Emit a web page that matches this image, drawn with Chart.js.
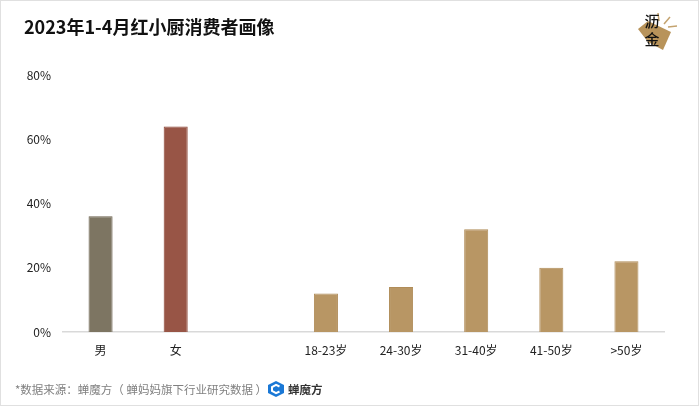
<!DOCTYPE html>
<html>
<head>
<meta charset="utf-8">
<script src="https://cdn.jsdelivr.net/npm/chart.js@4"></script>
<style>
  html, body { margin: 0; padding: 0; background: #fff; }
  #wrap { position: relative; width: 700px; height: 406px; overflow: hidden; font-family: "Noto Sans CJK SC", sans-serif; }
  #frame { position: absolute; left: 0; top: 0; width: 697px; height: 404px; border: 1px solid #e0e0e0; }
  #wheel { position: absolute; left: 0; top: 0; }
  #title { position: absolute; left: 24px; top: 12px; font-size: 18px; font-weight: 700; color: #111; line-height: 28px; white-space: nowrap; }
  #source { position: absolute; left: 15px; top: 379px; font-size: 11.5px; color: #808080; line-height: 20px; white-space: nowrap; }
  #brand { position: absolute; left: 288px; top: 379px; font-size: 11.5px; font-weight: 700; color: #333; line-height: 20px; }
  #logo-cube { position: absolute; left: 266px; top: 380px; }
  #badge { position: absolute; left: 636px; top: 10px; }
  #badge-text { position: absolute; left: 644px; top: 12px; width: 16px; font-size: 15px; font-weight: 500; line-height: 18px; color: #111; text-align: center; }
</style>
</head>
<body>
<div id="wrap">
  <div id="frame"></div>
  <canvas id="wheel" width="700" height="406"></canvas>
  <div id="title">2023年1-4月红小厨消费者画像</div>
  <div id="source">*数据来源：蝉魔方（ 蝉妈妈旗下行业研究数据 ）</div>
  <svg id="logo-cube" width="20" height="18" viewBox="0 0 20 18">
    <polygon points="10,1 18,5 18,13 10,17 2,13 2,5" fill="#1a78d6"/>
    <path d="M13.5 6.5 L10 4.8 L6 7 L6 11 L10 13.2 L13.5 11.5" fill="none" stroke="#fff" stroke-width="2"/>
  </svg>
  <div id="brand">蝉魔方</div>
  <svg id="badge" width="60" height="46" viewBox="0 0 60 46">
    <polygon points="2,19 12,11 35,22 27,40 12,32" fill="#b8935a"/>
    <line x1="41" y1="16" x2="32" y2="17" stroke="#c4a36f" stroke-width="1.5"/>
    <line x1="34" y1="7" x2="28" y2="14" stroke="#c4a36f" stroke-width="1.5"/>
    <line x1="22" y1="3" x2="23" y2="11" stroke="#c4a36f" stroke-width="1.5"/>
  </svg>
  <div id="badge-text">沥金</div>
</div>
<script>
const categories = ["男", "女", "", "18-23岁", "24-30岁", "31-40岁", "41-50岁", ">50岁"];
const shares = [36, 64, null, 12, 14, 32, 20, 22];
const barColors = ["#7d7562", "#985546", "#b89664", "#b89664", "#b89664", "#b89664", "#b89664", "#b89664"];
const barEdges = ["#6b614d", "#8a4232", "#b08c58", "#b08c58", "#b08c58", "#b08c58", "#b08c58", "#b08c58"];
const yMax = 80;
const yStep = 20;

const labelFont = { family: '"Noto Sans CJK SC", sans-serif', size: 12 };

new Chart(document.getElementById("wheel"), {
  type: "bar",
  data: {
    labels: categories,
    datasets: [{
      data: shares,
      backgroundColor: barColors,
      borderColor: barEdges,
      borderWidth: 1,
      barPercentage: 0.32,
      categoryPercentage: 1,
    }],
  },
  options: {
    responsive: false,
    animation: false,
    layout: { padding: { top: 75, right: 36, left: 0, bottom: 0 } },
    plugins: {
      legend: { display: false },
      tooltip: { enabled: false },
    },
    scales: {
      x: {
        grid: { display: false, drawTicks: false },
        border: { color: "#d9d9d9", width: 1.5 },
        ticks: { color: "#222", font: labelFont, padding: 11, maxRotation: 0, autoSkip: false },
        afterFit: (scale) => { scale.height = 74; },
      },
      y: {
        min: 0,
        max: yMax,
        grid: { display: false, drawTicks: false },
        border: { display: false },
        ticks: {
          stepSize: yStep,
          color: "#222",
          font: labelFont,
          padding: 12,
          callback: (value) => value + "%",
        },
        afterFit: (scale) => { scale.width = 63; },
      },
    },
  },
});
</script>
</body>
</html>
